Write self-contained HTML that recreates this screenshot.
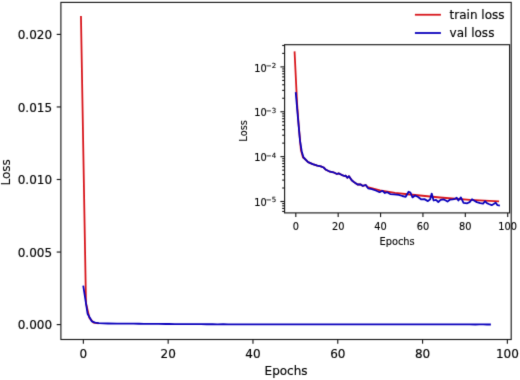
<!DOCTYPE html>
<html><head><meta charset="utf-8"><style>
html,body{margin:0;padding:0;background:#fff;width:520px;height:380px;overflow:hidden}
svg{display:block}
</style></head><body>
<svg width="520" height="380" viewBox="0 0 520 380">
<defs>
<filter id="soft" x="0" y="0" width="520" height="380" filterUnits="userSpaceOnUse" color-interpolation-filters="sRGB"><feConvolveMatrix order="3" kernelMatrix="0.0114 0.084 0.0114 0.084 0.618 0.084 0.0114 0.084 0.0114" edgeMode="duplicate" preserveAlpha="true"/></filter>
<clipPath id="cm"><rect x="60.9" y="2.4" width="450.3" height="337.1"/></clipPath>
<clipPath id="ci"><rect x="284.6" y="44.7" width="225.0" height="168.2"/></clipPath>
</defs>
<g filter="url(#soft)">
<rect width="520" height="380" fill="#fff"/>
<g clip-path="url(#cm)" fill="none" stroke-width="1.8" stroke-linejoin="round" stroke-linecap="square">
<polyline stroke="#d8161c" points="80.97,16.87 85.97,302.87 89.37,317.79 93.57,322.56 97.78,323.21"/>
<polyline stroke="#0a00bc" points="83.37,286.58 87.57,313.73 91.77,321.31 95.18,322.68 98.78,323.21 107.98,323.50 117.19,323.61 126.39,323.68 133.39,323.72 139.00,323.77 143.80,323.86 151.80,323.93 158.61,323.95 165.61,324.00 169.01,323.99 174.81,324.03 180.62,324.06 183.02,324.05 186.42,324.11 189.82,324.07 195.22,324.17 201.03,324.22 206.83,324.25 212.63,324.25 217.43,324.28 223.24,324.26 228.04,324.31 235.64,324.33 243.45,324.34 251.05,324.37 256.85,324.35 261.65,324.38 266.46,324.37 272.26,324.39 279.86,324.39 289.47,324.40 296.47,324.41 303.27,324.42 309.08,324.36 312.68,324.37 316.88,324.42 322.08,324.40 328.09,324.42 333.89,324.44 340.69,324.44 347.69,324.45 352.30,324.44 355.30,324.38 359.10,324.45 363.90,324.44 368.50,324.46 373.11,324.44 378.71,324.44 383.51,324.45 386.91,324.46 391.52,324.44 397.32,324.44 401.92,324.43 405.32,324.42 408.72,324.45 413.73,324.42 418.93,324.46 426.33,324.47 431.13,324.46 435.94,324.44 440.74,324.45 445.54,324.46 452.34,324.47 458.15,324.47 461.95,324.45 465.75,324.47 469.55,324.47 475.35,324.48 479.36,324.47 483.16,324.46 486.96,324.48 489.96,324.48"/>
</g>
<rect x="60.9" y="2.4" width="450.3" height="337.1" fill="none" stroke="#1a1a1a" stroke-width="1.15" stroke-linecap="square"/>
<g stroke="#1a1a1a" stroke-width="1.15"><line x1="56.699999999999996" y1="324.60" x2="60.9" y2="324.60"/><line x1="56.699999999999996" y1="252.05" x2="60.9" y2="252.05"/><line x1="56.699999999999996" y1="179.50" x2="60.9" y2="179.50"/><line x1="56.699999999999996" y1="106.95" x2="60.9" y2="106.95"/><line x1="56.699999999999996" y1="34.40" x2="60.9" y2="34.40"/><line x1="83.37" y1="339.5" x2="83.37" y2="343.7"/><line x1="168.17" y1="339.5" x2="168.17" y2="343.7"/><line x1="252.97" y1="339.5" x2="252.97" y2="343.7"/><line x1="337.77" y1="339.5" x2="337.77" y2="343.7"/><line x1="422.57" y1="339.5" x2="422.57" y2="343.7"/><line x1="507.37" y1="339.5" x2="507.37" y2="343.7"/></g>
<g style="font-family:'DejaVu Sans','Liberation Sans',sans-serif" font-size="12" fill="#000" stroke="#000" stroke-width="0.15"><text x="52.1" y="329.20" text-anchor="end">0.000</text><text x="52.1" y="256.65" text-anchor="end">0.005</text><text x="52.1" y="184.10" text-anchor="end">0.010</text><text x="52.1" y="111.55" text-anchor="end">0.015</text><text x="52.1" y="39.00" text-anchor="end">0.020</text><text x="83.37" y="358" text-anchor="middle">0</text><text x="168.17" y="358" text-anchor="middle">20</text><text x="252.97" y="358" text-anchor="middle">40</text><text x="337.77" y="358" text-anchor="middle">60</text><text x="422.57" y="358" text-anchor="middle">80</text><text x="507.37" y="358" text-anchor="middle">100</text><text x="286.05" y="375.2" text-anchor="middle">Epochs</text><text transform="translate(10.4,172.4) rotate(-90)" text-anchor="middle" stroke-width="0.08">Loss</text><text x="449.6" y="18.7">train loss</text><text x="449.6" y="37.2">val loss</text></g>
<line x1="415.8" y1="14.75" x2="440" y2="14.75" stroke="#d8161c" stroke-width="1.8" stroke-linecap="square"/>
<line x1="415.8" y1="33" x2="440" y2="33" stroke="#0a00bc" stroke-width="1.8" stroke-linecap="square"/>
<rect x="284.6" y="44.7" width="225.0" height="168.2" fill="#fff"/>
<g clip-path="url(#ci)" fill="none" stroke-width="1.8" stroke-linejoin="round" stroke-linecap="square">
<polyline stroke="#d8161c" points="294.60,52.25 297.10,103.90 298.80,126.50 300.90,150.00 303.00,157.50 303.50,157.50 308.10,162.10 312.70,164.10 317.30,165.60 320.80,166.40 323.60,167.50 326.00,169.80 330.00,171.70 333.40,172.30 336.90,174.00 338.60,173.40 341.50,174.80 344.40,176.00 345.60,175.60 347.30,177.70 349.00,176.30 351.70,180.20 354.60,182.60 357.50,184.50 360.40,184.30 362.80,185.90 365.70,185.00 367.60,187.20 380.00,190.30 395.00,192.80 410.00,194.50 440.00,197.50 470.00,199.90 498.20,201.30"/>
<polyline stroke="#0a00bc" points="295.80,93.00 297.90,117.40 300.00,140.70 301.70,151.20 303.50,157.50 308.10,162.10 312.70,164.10 317.30,165.60 320.80,166.40 323.60,167.50 326.00,169.80 330.00,171.70 333.40,172.30 336.90,174.00 338.60,173.40 341.50,174.80 344.40,176.00 345.60,175.60 347.30,177.70 349.00,176.30 351.70,180.20 354.60,182.60 357.50,184.50 360.40,184.30 362.80,185.90 365.70,185.00 368.10,188.30 371.90,189.10 375.80,190.50 379.60,192.20 382.50,190.80 384.90,193.00 387.30,192.20 390.20,194.10 394.00,194.30 398.80,194.80 402.30,196.00 405.70,196.80 408.60,191.70 410.40,192.50 412.50,197.40 415.10,195.50 418.10,197.00 421.00,199.30 424.40,199.10 427.90,201.10 430.20,199.30 431.70,193.60 433.60,200.50 436.00,199.90 438.30,202.00 440.60,199.90 443.40,199.30 445.80,200.50 447.50,201.60 449.80,199.70 452.70,199.30 455.00,198.80 456.70,197.80 458.40,200.50 460.90,197.40 463.50,202.80 467.20,203.30 469.60,202.10 472.00,199.20 474.40,200.70 476.80,202.10 480.20,203.10 483.10,203.60 485.00,201.20 486.90,203.10 488.80,204.00 491.70,205.20 493.70,204.00 495.60,202.60 497.50,205.20 499.00,205.50"/>
</g>
<rect x="284.6" y="44.7" width="225.0" height="168.2" fill="none" stroke="#1a1a1a" stroke-width="1.15" stroke-linecap="square"/>
<g stroke="#1a1a1a" stroke-width="1.15"><line x1="280.40000000000003" y1="66.90" x2="284.6" y2="66.90"/><line x1="280.40000000000003" y1="111.77" x2="284.6" y2="111.77"/><line x1="280.40000000000003" y1="156.64" x2="284.6" y2="156.64"/><line x1="280.40000000000003" y1="201.51" x2="284.6" y2="201.51"/><line x1="282.20000000000005" y1="211.46" x2="284.6" y2="211.46"/><line x1="282.20000000000005" y1="208.46" x2="284.6" y2="208.46"/><line x1="282.20000000000005" y1="205.86" x2="284.6" y2="205.86"/><line x1="282.20000000000005" y1="203.56" x2="284.6" y2="203.56"/><line x1="282.20000000000005" y1="188.00" x2="284.6" y2="188.00"/><line x1="282.20000000000005" y1="180.10" x2="284.6" y2="180.10"/><line x1="282.20000000000005" y1="174.50" x2="284.6" y2="174.50"/><line x1="282.20000000000005" y1="170.15" x2="284.6" y2="170.15"/><line x1="282.20000000000005" y1="166.59" x2="284.6" y2="166.59"/><line x1="282.20000000000005" y1="163.59" x2="284.6" y2="163.59"/><line x1="282.20000000000005" y1="160.99" x2="284.6" y2="160.99"/><line x1="282.20000000000005" y1="158.69" x2="284.6" y2="158.69"/><line x1="282.20000000000005" y1="143.13" x2="284.6" y2="143.13"/><line x1="282.20000000000005" y1="135.23" x2="284.6" y2="135.23"/><line x1="282.20000000000005" y1="129.63" x2="284.6" y2="129.63"/><line x1="282.20000000000005" y1="125.28" x2="284.6" y2="125.28"/><line x1="282.20000000000005" y1="121.72" x2="284.6" y2="121.72"/><line x1="282.20000000000005" y1="118.72" x2="284.6" y2="118.72"/><line x1="282.20000000000005" y1="116.12" x2="284.6" y2="116.12"/><line x1="282.20000000000005" y1="113.82" x2="284.6" y2="113.82"/><line x1="282.20000000000005" y1="98.26" x2="284.6" y2="98.26"/><line x1="282.20000000000005" y1="90.36" x2="284.6" y2="90.36"/><line x1="282.20000000000005" y1="84.76" x2="284.6" y2="84.76"/><line x1="282.20000000000005" y1="80.41" x2="284.6" y2="80.41"/><line x1="282.20000000000005" y1="76.85" x2="284.6" y2="76.85"/><line x1="282.20000000000005" y1="73.85" x2="284.6" y2="73.85"/><line x1="282.20000000000005" y1="71.25" x2="284.6" y2="71.25"/><line x1="282.20000000000005" y1="68.95" x2="284.6" y2="68.95"/><line x1="282.20000000000005" y1="53.39" x2="284.6" y2="53.39"/><line x1="282.20000000000005" y1="45.49" x2="284.6" y2="45.49"/><line x1="295.80" y1="212.9" x2="295.80" y2="217.1"/><line x1="338.18" y1="212.9" x2="338.18" y2="217.1"/><line x1="380.56" y1="212.9" x2="380.56" y2="217.1"/><line x1="422.94" y1="212.9" x2="422.94" y2="217.1"/><line x1="465.32" y1="212.9" x2="465.32" y2="217.1"/><line x1="507.70" y1="212.9" x2="507.70" y2="217.1"/></g>
<g style="font-family:'DejaVu Sans','Liberation Sans',sans-serif" font-size="9.8" fill="#000" stroke="#000" stroke-width="0.12"><text x="254.2" y="71.50">10<tspan font-size="7.0" dx="-0.8" dy="-3.7">−2</tspan></text><text x="254.2" y="116.37">10<tspan font-size="7.0" dx="-0.8" dy="-3.7">−3</tspan></text><text x="254.2" y="161.24">10<tspan font-size="7.0" dx="-0.8" dy="-3.7">−4</tspan></text><text x="254.2" y="206.11">10<tspan font-size="7.0" dx="-0.8" dy="-3.7">−5</tspan></text><text x="295.80" y="229.6" text-anchor="middle">0</text><text x="338.18" y="229.6" text-anchor="middle">20</text><text x="380.56" y="229.6" text-anchor="middle">40</text><text x="422.94" y="229.6" text-anchor="middle">60</text><text x="465.32" y="229.6" text-anchor="middle">80</text><text x="507.70" y="229.6" text-anchor="middle">100</text><text x="397.10" y="245.4" text-anchor="middle">Epochs</text><text transform="translate(246.8,130.9) rotate(-90)" text-anchor="middle" stroke-width="0.08">Loss</text></g>
</g>
</svg>
</body></html>
